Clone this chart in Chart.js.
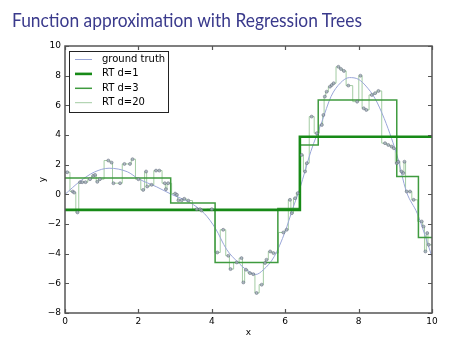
<!DOCTYPE html>
<html><head><meta charset="utf-8">
<script src="https://cdn.jsdelivr.net/npm/chart.js@4/dist/chart.umd.min.js"></script>
<style>
html,body{margin:0;padding:0;background:#fff;}
#wrap{position:relative;width:474px;height:355px;overflow:hidden;}
#title{position:absolute;left:12px;top:10px;font-family:Lato,"Liberation Sans",sans-serif;font-size:19.5px;line-height:1;color:#3a3a8c;white-space:nowrap;transform-origin:0 0;}
canvas{position:absolute;left:0;top:0;}
</style></head><body>
<div id="wrap"><canvas id="c" width="474" height="355"></canvas><div id="title">Function approximation with Regression Trees</div></div>
<script>
// ---- data ----
const gtX = [0, 0.4, 0.8, 1.2, 1.7, 2.0, 2.5, 2.9, 3.4, 3.8, 4.1, 4.4, 4.7, 4.95, 5.2, 5.4, 5.7, 6.0, 6.2, 6.4, 6.7, 7.0, 7.25, 7.5, 7.75, 8.0, 8.2, 8.45, 8.7, 8.9, 9.05, 9.3, 9.6, 10];
const gtY = [0, 0.86, 1.5, 1.76, 1.52, 1.05, 0.5, 0.0, -0.55, -1.3, -2.3, -3.7, -4.55, -5.1, -5.4, -5.1, -4.2, -2.5, -1.0, 0.4, 2.9, 4.9, 6.6, 7.5, 7.87, 7.75, 7.3, 6.45, 5.1, 3.75, 2.6, 0.2, -1.3, -4.2];

const sampleX = [0.06, 0.21, 0.25, 0.34, 0.41, 0.47, 0.56, 0.68, 0.77, 0.82, 0.88, 0.95, 1.18, 1.27, 1.32, 1.50, 1.62, 1.77, 1.84, 2.00, 2.13, 2.21, 2.24, 2.36, 2.48, 2.57, 2.72, 2.75, 2.81, 3.00, 3.05, 3.09, 3.18, 3.25, 3.36, 3.59, 3.68, 3.72, 4.00, 4.15, 4.31, 4.45, 4.51, 4.68, 4.81, 4.86, 4.93, 5.04, 5.13, 5.22, 5.36, 5.45, 5.49, 5.59, 5.68, 5.95, 6.04, 6.13, 6.18, 6.27, 6.34, 6.45, 6.54, 6.59, 6.72, 6.86, 7.00, 7.04, 7.08, 7.13, 7.22, 7.27, 7.32, 7.45, 7.52, 7.60, 7.72, 7.96, 8.05, 8.14, 8.21, 8.36, 8.45, 8.54, 8.72, 8.81, 8.90, 8.96, 9.04, 9.08, 9.17, 9.22, 9.25, 9.31, 9.40, 9.50, 9.72, 9.77, 9.82, 9.87, 9.91];
const sampleY = [1.49, 0.19, 0.12, -1.22, 0.82, 0.82, 0.82, 1.02, 1.25, 1.31, 0.84, 1.02, 2.28, 2.14, 0.75, 0.75, 2.05, 2.05, 2.37, 1.02, 0.30, 1.54, 0.53, 0.64, 1.60, 1.60, 0.75, 0.35, 0.75, 0.05, -0.03, -0.40, -0.40, -0.30, -0.42, -1.00, -1.00, -1.09, -1.00, -3.92, -2.39, -4.14, -5.04, -4.59, -4.30, -5.94, -5.08, -5.31, -5.38, -6.65, -6.09, -4.63, -4.41, -3.85, -3.96, -2.57, -2.39, -0.37, -1.27, -0.26, 0.08, 2.66, 1.54, 2.10, 5.24, 4.12, 4.68, 5.35, 6.59, 6.92, 7.26, 7.37, 7.49, 8.60, 8.45, 8.32, 7.33, 6.25, 8.00, 5.80, 5.69, 6.70, 6.82, 6.97, 3.45, 3.33, 3.22, 3.11, 2.10, 2.20, 1.54, 1.43, 2.20, 0.19, 0.19, -0.37, -1.83, -2.17, -3.85, -2.61, -3.40];

const d1Splits = [6.40];
const d1Values = [-1.05, 3.88];
const d3Splits = [2.88, 4.09, 5.80, 6.40, 6.90, 9.04, 9.63];
const d3Values = [1.10, -0.59, -4.59, -0.95, 3.33, 6.36, 1.20, -2.91];

const xTicks = [0, 2, 4, 6, 8, 10];
const yTicks = [-8, -6, -4, -2, 0, 2, 4, 6, 8, 10];
const X_MIN = 0, X_MAX = 10, Y_MIN = -8, Y_MAX = 10;

// fit the title to the reference width
(function () {
  const t = document.getElementById('title');
  const w = t.getBoundingClientRect().width;
  if (w > 0) t.style.transform = 'scaleX(' + (350 / w) + ')';
})();

// ---- build library data ----
function stepData(splits, values) {
  const pts = [{x: X_MIN, y: values[0]}];
  splits.forEach((s, i) => pts.push({x: s, y: values[i + 1]}));
  pts.push({x: X_MAX, y: values[values.length - 1]});
  return pts;
}
const samples = sampleX.map((x, i) => ({x, y: sampleY[i]}));
const d20 = [{x: X_MIN, y: sampleY[0]}].concat(samples, [{x: X_MAX, y: sampleY[sampleY.length - 1]}]);
const gt = gtX.map((x, i) => ({x, y: gtY[i]}));

const FRAME = '#555555';
const fmt = v => (v < 0 ? '\u2212' + Math.abs(v) : String(v));

const framePlugin = {
  id: 'frame',
  afterDatasetsDraw(chart) {
    const {ctx, chartArea: a, scales} = chart;
    ctx.save();
    ctx.strokeStyle = FRAME;
    ctx.lineWidth = 1.2;
    const L = 4;
    ctx.beginPath();
    xTicks.forEach(v => {
      const p = Math.round(scales.x.getPixelForValue(v)) + 0.5;
      ctx.moveTo(p, a.bottom); ctx.lineTo(p, a.bottom - L);
      ctx.moveTo(p, a.top); ctx.lineTo(p, a.top + L);
    });
    yTicks.forEach(v => {
      const p = Math.round(scales.y.getPixelForValue(v)) + 0.5;
      ctx.moveTo(a.left, p); ctx.lineTo(a.left + L, p);
      ctx.moveTo(a.right, p); ctx.lineTo(a.right - L, p);
    });
    ctx.stroke();
    ctx.lineWidth = 1.5;
    ctx.strokeRect(a.left, a.top, a.right - a.left, a.bottom - a.top);
    ctx.restore();
  }
};

const legendPlugin = {
  id: 'innerLegend',
  afterDraw(chart) {
    const {ctx, chartArea: a} = chart;
    const items = chart.data.datasets.filter(d => d.inLegend);
    const x0 = a.left + 4, y0 = a.top + 5, w = 99, rowH = 14.4, h = 61;
    ctx.save();
    ctx.fillStyle = '#ffffff';
    ctx.fillRect(x0, y0, w, h);
    ctx.strokeStyle = '#222222';
    ctx.lineWidth = 1;
    ctx.strokeRect(x0 + 0.5, y0 + 0.5, w, h);
    ctx.font = '10px "DejaVu Sans"';
    ctx.textBaseline = 'middle';
    items.forEach((d, i) => {
      const y = y0 + 8.5 + i * rowH;
      ctx.strokeStyle = d.borderColor;
      ctx.lineWidth = d.borderWidth;
      ctx.beginPath(); ctx.moveTo(x0 + 6, y); ctx.lineTo(x0 + 23, y); ctx.stroke();
      ctx.fillStyle = '#000';
      ctx.fillText(d.label, x0 + 33, y);
    });
    ctx.restore();
  }
};

new Chart(document.getElementById('c'), {
  type: 'line',
  data: {
    datasets: [
      {label: 'ground truth', inLegend: true, data: gt, borderColor: '#9aa6d8', borderWidth: 1, pointRadius: 0, tension: 0.4, cubicInterpolationMode: 'monotone', order: 3},
      {label: 'RT d=1', inLegend: true, data: stepData(d1Splits, d1Values), borderColor: '#178a17', borderWidth: 2.6, pointRadius: 0, stepped: 'before', order: 1},
      {label: 'RT d=3', inLegend: true, data: stepData(d3Splits, d3Values), borderColor: '#3f9b3f', borderWidth: 1.5, pointRadius: 0, stepped: 'before', order: 2},
      {label: 'RT d=20', inLegend: true, data: d20, borderColor: '#a3cca3', borderWidth: 1, pointRadius: 0, stepped: 'middle', order: 4},
      {label: 'samples', inLegend: false, data: samples, showLine: false, pointRadius: 1.5, pointBackgroundColor: 'rgba(165,175,190,0.8)', pointBorderColor: 'rgba(80,90,105,0.75)', pointBorderWidth: 0.6, order: 0}
    ]
  },
  options: {
    responsive: false,
    animation: false,
    devicePixelRatio: 1,
    layout: {padding: {left: 0, right: 42, top: 46, bottom: 0}},
    plugins: {legend: {display: false}, tooltip: {enabled: false}, title: {display: false}},
    scales: {
      x: {
        type: 'linear', min: X_MIN, max: X_MAX,
        afterBuildTicks: s => { s.ticks = xTicks.map(v => ({value: v})); },
        afterFit: s => { s.height = 42; },
        grid: {display: false, drawTicks: false},
        border: {display: false},
        ticks: {padding: 3, color: '#000', font: {family: 'DejaVu Sans', size: 9}, callback: v => fmt(v), maxRotation: 0},
        title: {display: true, text: 'x', color: '#000', font: {family: 'DejaVu Sans', size: 9}, padding: {top: 0, bottom: 17}}
      },
      y: {
        type: 'linear', min: Y_MIN, max: Y_MAX,
        afterBuildTicks: s => { s.ticks = yTicks.map(v => ({value: v})); },
        afterFit: s => { s.width = 65; },
        grid: {display: false, drawTicks: false},
        border: {display: false},
        ticks: {padding: 4, color: '#000', font: {family: 'DejaVu Sans', size: 9}, callback: v => fmt(v)},
        title: {display: true, text: 'y', color: '#000', font: {family: 'DejaVu Sans', size: 9}, padding: {top: 37, bottom: 0}}
      }
    }
  },
  plugins: [framePlugin, legendPlugin]
});
</script>
</body></html>
